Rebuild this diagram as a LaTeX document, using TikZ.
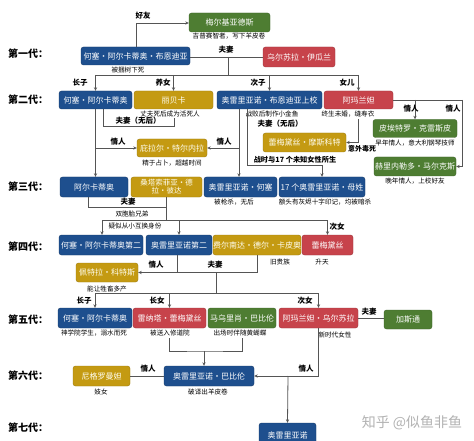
\documentclass[tikz,border=0pt]{standalone}
\usepackage{fontspec}
\setmainfont{Noto Sans CJK SC}
\usetikzlibrary{arrows.meta}
\definecolor{cblue}{HTML}{1E4F8E}
\definecolor{cgold}{HTML}{C49A12}
\definecolor{cred}{HTML}{C7434B}
\definecolor{cgreen}{HTML}{4E7D32}
\definecolor{cline}{HTML}{555555}
\tikzset{
  box/.style={rounded corners=2.5pt, inner sep=0pt, text=white, align=center,
    font=\fontsize{8}{9}\selectfont},
  bbox/.style={box, fill=cblue, draw=cblue!75!black},
  gbox/.style={box, fill=cgold, draw=cgold!80!black, text=white!95!yellow},
  rbox/.style={box, fill=cred, draw=cred!80!black},
  vbox/.style={box, fill=cgreen, draw=cgreen!80!black},
  note/.style={inner sep=0pt, font=\fontsize{6.6}{7}\selectfont},
  lab/.style={inner sep=0pt, font=\bfseries\fontsize{7.5}{8}\selectfont},
  gen/.style={inner sep=0pt, anchor=west, font=\bfseries\fontsize{10}{11}\selectfont},
  conn/.style={draw=cline, line width=0.8pt},
  arr/.style={conn, -{Stealth[length=3.5pt,width=3.2pt]}}
}
\begin{document}
\begin{tikzpicture}[x=1pt,y=-1pt]
\useasboundingbox (0,0) rectangle (474,441);
\clip (0,0) rectangle (474,441);
\fill[white] (0,0) rectangle (474,441);

% generation labels
\node[gen] (g1) at (8,54) {第一代：};
\node[gen] (g2) at (8,100) {第二代：};
\node[gen] (g3) at (8,187) {第三代：};
\node[gen] (g4) at (8,247) {第四代：};
\node[gen] (g5) at (8,320) {第五代：};
\node[gen] (g6) at (8,376) {第六代：};
\node[gen] (g7) at (8,428) {第七代：};

% generation 1
\node[vbox, minimum width=81, minimum height=19] (mel) at (229.5,22.5) {梅尔基亚德斯};
\node[bbox, minimum width=109, minimum height=18] (jab) at (135.5,56) {何塞·阿尔卡蒂奥·布恩迪亚};
\node[rbox, minimum width=72, minimum height=20] (urs) at (299,57) {乌尔苏拉·伊瓜兰};
\node[note] (n1) at (229,36) {吉普赛智者，写下羊皮卷};
\node[note] (n2) at (128,70) {被捆树下死};

% generation 2
\node[bbox, minimum width=73, minimum height=18] (ja1) at (95.5,100) {何塞·阿尔卡蒂奥};
\node[gbox, minimum width=79, minimum height=18] (reb) at (173.5,100) {丽贝卡};
\node[bbox, minimum width=105, minimum height=18] (col) at (269.5,100) {奥雷里亚诺·布恩迪亚上校};
\node[rbox, minimum width=69, minimum height=18] (ama) at (358.5,100) {阿玛兰妲};
\node[note] (n3) at (170,114) {丈夫死后成为活死人};
\node[note] (n4) at (272,114) {战败后制作小金鱼};
\node[note] (n5) at (348,114) {终生未婚，缝寿衣};

\node[gbox, minimum width=70, minimum height=18] (pil) at (172,148) {庇拉尔·特尔内拉};
\node[note] (n6) at (172,163) {精于占卜，超越时间};
\node[gbox, minimum width=83, minimum height=19] (rmo) at (304.5,142.5) {蕾梅黛丝·摩斯科特};
\node[note, font=\bfseries\fontsize{7}{8}\selectfont] (n7) at (362,149) {意外毒死};
\node[note, font=\bfseries\fontsize{7.2}{8}\selectfont] (n8) at (295,160) {战时与17 个未知女性所生};
\node[vbox, minimum width=84, minimum height=18] (pie) at (415,128.5) {皮埃特罗·克雷斯皮};
\node[note] (n9) at (415,143) {早年情人，意大利钢琴技师};
\node[vbox, minimum width=82, minimum height=19] (ger) at (415,166.5) {赫里内勒多·马尔克斯};
\node[note] (n10) at (415,181) {晚年情人，上校好友};

% generation 3
\node[bbox, minimum width=68, minimum height=20] (arc) at (94,187) {阿尔卡蒂奥};
\node[gbox, minimum width=71, minimum height=20, font=\fontsize{7.5}{8}\selectfont] (san) at (166.5,187) {桑塔索菲亚·德\\拉·彼达};
\node[bbox, minimum width=73, minimum height=20] (ajo) at (240.5,187) {奥雷里亚诺·何塞};
\node[bbox, minimum width=86, minimum height=20] (s17) at (322,187) {17 个奥雷里亚诺·母姓};
\node[note] (n11) at (234,202) {被枪杀，无后};
\node[note] (n12) at (325,202) {额头有灰烬十字印记，均被暗杀};

% generation 4
\node[bbox, minimum width=84, minimum height=20] (ja2) at (101,245) {何塞·阿尔卡蒂奥第二};
\node[bbox, minimum width=66, minimum height=20] (au2) at (179,245) {奥雷里亚诺第二};
\node[gbox, minimum width=86, minimum height=20] (fer) at (257,245) {费尔南达·德尔·卡皮奥};
\node[rbox, minimum width=51, minimum height=20] (rem) at (327.5,245) {蕾梅黛丝};
\node[note] (n13) at (280,262) {旧贵族};
\node[note] (n14) at (322,262) {升天};
\node[gbox, minimum width=62, minimum height=19] (pet) at (107,272.5) {佩特拉·科特斯};
\node[note] (n15) at (107,289) {能让牲畜多产};

% generation 5
\node[bbox, minimum width=74, minimum height=20] (ja3) at (95,318) {何塞·阿尔卡蒂奥};
\node[rbox, minimum width=73, minimum height=20] (ren) at (169.5,318) {雷纳塔·蕾梅黛丝};
\node[vbox, minimum width=68, minimum height=20] (mau) at (242,318) {马乌里肖·巴比伦};
\node[rbox, minimum width=79, minimum height=20] (amu) at (318.5,318) {阿玛兰妲·乌尔苏拉};
\node[vbox, minimum width=48, minimum height=19] (gas) at (408,319.5) {加斯通};
\node[note] (n16) at (94,333) {神学院学生，溺水而死};
\node[note] (n17) at (170,333) {被送入修道院};
\node[note] (n18) at (240,333) {出场时伴随黄蝴蝶};
\node[note] (n19) at (335,335) {新时代女性};

% generation 6
\node[gbox, minimum width=57, minimum height=20] (nig) at (101.5,376) {尼格罗曼妲};
\node[bbox, minimum width=90, minimum height=20] (aub) at (209,376) {奥雷里亚诺·巴比伦};
\node[note] (n20) at (101,392) {妓女};
\node[note] (n21) at (208,392) {破译出羊皮卷};

% generation 7
\node[bbox, minimum width=57, minimum height=24] (aur) at (287.5,435) {奥雷里亚诺};

% watermark
\node[inner sep=0pt, text=black!30, font=\fontsize{14}{15}\selectfont] (wm) at (412,423) {知乎 @似鱼非鱼};

% ---------- connectors ----------
% gen 1
\coordinate (k1) at (136,23);
\draw[arr] (k1 |- jab.north) -- (k1) -- (k1 -| mel.west);
\node[lab] (l1) at (143,16) {好友};
\draw[conn] (jab.east |- urs.west) -- (urs.west);
\node[lab] (l2) at (226,50) {夫妻};
\coordinate (m1) at (228,75);
\draw[conn] (m1 |- urs.west) -- (m1);
\draw[conn] (ja1.north |- m1) -- (ama.north |- m1);
\foreach \n in {ja1,reb,col,ama} \draw[arr] (\n.north |- m1) -- (\n.north);
\node[lab] (l3) at (80,83) {长子};
\node[lab] (l4) at (163,83) {养女};
\node[lab] (l5) at (258,83) {次子};
\node[lab] (l6) at (347,83) {女儿};

% gen 2
\draw[arr] (ja1.south) -- (ja1.south |- arc.north);
\draw[arr] (ja1.south |- pil.west) -- (pil.west);
\node[lab] (l7) at (118,142) {情人};
\coordinate (b1) at (103,126);
\coordinate (b2) at (174,118);
\draw[conn] (b1 |- ja1.south) -- (b1) -- (b1 -| b2) -- (b2);
\node[lab] (l8) at (138,121) {夫妻（无后）};

\coordinate (c1) at (239,147);
\draw[arr] (c1 |- col.south) -- (c1 |- ajo.north);
\draw[arr] (c1 |- pil.east) -- (pil.east);
\node[lab] (l9) at (224,142) {情人};
\coordinate (c2) at (247,165);
\draw[arr] (c2 |- col.south) -- (c2) -- (c2 -| s17.north) -- (s17.north);
\node[lab] (l10) at (280,124) {夫妻（无后）};

\coordinate (a1) at (358,119);
\draw[arr] (a1) -- (a1 |- rmo.east) -- (rmo.east);
\coordinate (a2) at (462,99);
\draw[conn] (ama.east) -- (a2 |- ama.east);
\draw[arr] (pie.north |- ama.east) -- (pie.north);
\draw[arr] (a2 |- ama.east) -- (a2 |- ger.east) -- (ger.east);
\node[lab] (l11) at (411,109) {情人};
\node[lab] (l12) at (453,109) {情人};

% gen 3
\coordinate (t1) at (166.5,207);
\draw[conn] ([xshift=-6pt]arc.south) |- (t1);
\coordinate (t2) at (102,220);
\draw[conn] (san.south) -- (san.south |- t2);
\node[lab] (l13) at (128,202) {夫妻};
\draw[conn] (t2) -- (rem.north |- t2);
\draw[arr] (t2) -- (t2 |- ja2.north);
\draw[arr] (au2.north |- t2) -- (au2.north);
\draw[arr] (rem.north |- t2) -- (rem.north);
\node[note] (l14) at (132,214) {双胞胎兄弟};
\node[note] (l15) at (135,226) {疑似从小互换身份};
\node[lab] (l16) at (337,227) {次女};

% gen 4
\coordinate (f1) at (177,272.5);
\draw[conn] (f1 |- au2.south) -- (f1);
\draw[arr] (fer.south) |- (pet.east);
\node[lab] (l17) at (156,265) {情人};
\node[lab] (l18) at (215,265) {夫妻};
\coordinate (f2) at (216,293);
\draw[conn] (f2 |- pet.east) -- (f2);
\draw[conn] (ja3.north |- f2) -- (amu.north |- f2);
\foreach \n in {ja3,ren,amu} \draw[arr] (\n.north |- f2) -- (\n.north);
\node[lab] (l19) at (84,301) {长子};
\node[lab] (l20) at (157,301) {长女};
\node[lab] (l21) at (305,301) {次女};

% gen 5
\draw[conn] (amu.east) -- (amu.east -| gas.west);
\node[lab] (l22) at (369,312) {夫妻};
\coordinate (g5c) at (204,351);
\draw[conn] ([yshift=-10pt]ren.south) |- (g5c) -| ([yshift=-10pt]mau.south);
\draw[arr] (g5c) -- (g5c |- aub.north);
\draw[arr] (amu.south) |- (aub.east);
\node[lab] (l23) at (306,369) {情人};
\coordinate (h1) at (288,376);
\draw[arr] (h1) -- (aur.north);

% gen 6
\draw[conn] (nig.east) -- (aub.west);
\node[lab] (l24) at (148,369) {情人};
\end{tikzpicture}
\end{document}
